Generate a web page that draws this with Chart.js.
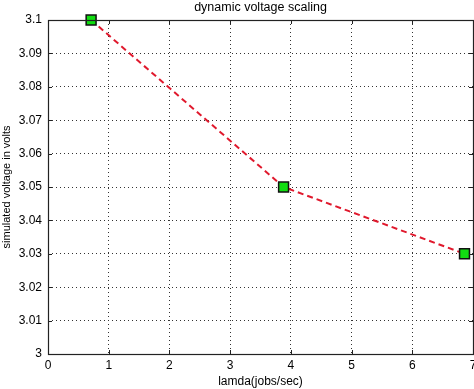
<!DOCTYPE html>
<html>
<head>
<meta charset="utf-8">
<script src="https://cdn.jsdelivr.net/npm/chart.js@4"></script>
<style>
  html, body { margin: 0; padding: 0; background: #fff; }
  #wrap { width: 474px; height: 389px; }
</style>
</head>
<body>
<div id="wrap"><canvas id="voltChart" width="474" height="389"></canvas></div>
<script>
// data
const lamda = [0.71, 3.88, 6.86];
const voltage = [3.10, 3.05, 3.03];
const xTicks = [0, 1, 2, 3, 4, 5, 6, 7];
const yTicks = [3.00, 3.01, 3.02, 3.03, 3.04, 3.05, 3.06, 3.07, 3.08, 3.09, 3.10];

const FONT = 'Liberation Sans, Arial, sans-serif';

// matlab style box with inward ticks
const boxPlugin = {
    id: 'box',
    afterDraw(chart) {
        const a = chart.chartArea;
        const ctx = chart.ctx;
        const xs = chart.scales.x, ys = chart.scales.y;
        ctx.save();
        ctx.strokeStyle = '#222';
        ctx.lineWidth = 1;
        ctx.beginPath();
        xTicks.forEach(v => {
            const px = Math.round(xs.getPixelForValue(v)) + 0.5;
            ctx.moveTo(px, a.bottom); ctx.lineTo(px, a.bottom - 4);
            ctx.moveTo(px, a.top); ctx.lineTo(px, a.top + 4);
        });
        yTicks.forEach(v => {
            const py = Math.round(ys.getPixelForValue(v)) + 0.5;
            ctx.moveTo(a.left, py); ctx.lineTo(a.left + 4, py);
            ctx.moveTo(a.right, py); ctx.lineTo(a.right - 4, py);
        });
        ctx.stroke();
        ctx.lineWidth = 1.2;
        ctx.strokeRect(Math.round(a.left) + 0.5, Math.round(a.top) + 0.5,
            Math.round(a.right - a.left), Math.round(a.bottom - a.top));
        ctx.restore();
    }
};

new Chart(document.getElementById('voltChart').getContext('2d'), {
    type: 'line',
    data: {
        datasets: [{
            label: 'voltage',
            data: lamda.map((x, i) => ({ x: x, y: voltage[i] })),
            borderColor: '#e0192d',
            borderWidth: 2,
            borderDash: [6, 4],
            pointStyle: 'rect',
            pointRadius: 7,
            pointBackgroundColor: '#11dd11',
            pointBorderColor: '#111',
            pointBorderWidth: 1.5,
            tension: 0,
            clip: false
        }]
    },
    options: {
        responsive: false,
        animation: false,
        layout: { autoPadding: false, padding: { left: 0, right: 1, top: 0, bottom: 0 } },
        scales: {
            x: {
                type: 'linear',
                min: 0,
                max: 7,
                afterBuildTicks: s => { s.ticks = xTicks.map(v => ({ value: v })); },
                afterFit: s => { s.height = 35; s.paddingLeft = 0; s.paddingRight = 0; },
                ticks: { color: '#000', font: { family: FONT, size: 12 }, padding: 4, maxRotation: 0 },
                grid: { color: '#333', drawTicks: false },
                border: { display: false, dash: [1, 3] },
                title: { display: true, text: 'lamda(jobs/sec)', color: '#000', font: { family: FONT, size: 12 }, padding: { top: 1, bottom: 0 } }
            },
            y: {
                type: 'linear',
                min: 3,
                max: 3.1,
                afterBuildTicks: s => { s.ticks = yTicks.map(v => ({ value: v })); },
                afterFit: s => { s.width = 48; s.paddingTop = 0; s.paddingBottom = 0; },
                ticks: {
                    color: '#000',
                    font: { family: FONT, size: 12 },
                    padding: 6,
                    callback: v => String(Number(v.toFixed(2)))
                },
                grid: { color: '#333', drawTicks: false },
                border: { display: false, dash: [1, 3] },
                title: { display: true, text: 'simulated voltage in volts', color: '#000', font: { family: FONT, size: 11 }, padding: { top: 0, bottom: 0 } }
            }
        },
        plugins: {
            legend: { display: false },
            tooltip: { enabled: false },
            title: {
                display: true,
                fullSize: false,
                text: 'dynamic voltage scaling',
                color: '#000',
                font: { family: FONT, size: 12.5, weight: 'normal' },
                padding: { top: 0, bottom: 5 }
            }
        }
    },
    plugins: [boxPlugin]
});
</script>
</body>
</html>
